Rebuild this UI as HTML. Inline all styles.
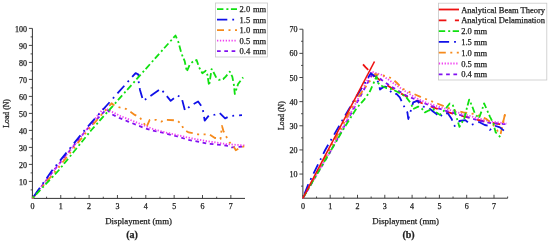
<!DOCTYPE html><html><head><meta charset="utf-8"><style>html,body{margin:0;padding:0;background:#fff;overflow:hidden}svg{display:block}text{stroke:#222;stroke-width:0.25px}</style></head><body>
<svg width="550" height="241" viewBox="0 0 550 241" font-family="'Liberation Serif', 'Times New Roman', serif" font-size="8" fill="#222">
<line x1="32.4" y1="28.4" x2="32.4" y2="198.9" stroke="#333" stroke-width="1"/>
<line x1="31.9" y1="198.4" x2="245" y2="198.4" stroke="#333" stroke-width="1"/>
<line x1="30.599999999999998" y1="189.90" x2="32.4" y2="189.90" stroke="#333" stroke-width="0.9"/>
<line x1="28.9" y1="181.40" x2="32.4" y2="181.40" stroke="#333" stroke-width="0.9"/>
<line x1="30.599999999999998" y1="172.90" x2="32.4" y2="172.90" stroke="#333" stroke-width="0.9"/>
<text x="26.9" y="184.50" text-anchor="end">10</text>
<line x1="28.9" y1="164.40" x2="32.4" y2="164.40" stroke="#333" stroke-width="0.9"/>
<line x1="30.599999999999998" y1="155.90" x2="32.4" y2="155.90" stroke="#333" stroke-width="0.9"/>
<text x="26.9" y="167.50" text-anchor="end">20</text>
<line x1="28.9" y1="147.40" x2="32.4" y2="147.40" stroke="#333" stroke-width="0.9"/>
<line x1="30.599999999999998" y1="138.90" x2="32.4" y2="138.90" stroke="#333" stroke-width="0.9"/>
<text x="26.9" y="150.50" text-anchor="end">30</text>
<line x1="28.9" y1="130.40" x2="32.4" y2="130.40" stroke="#333" stroke-width="0.9"/>
<line x1="30.599999999999998" y1="121.90" x2="32.4" y2="121.90" stroke="#333" stroke-width="0.9"/>
<text x="26.9" y="133.50" text-anchor="end">40</text>
<line x1="28.9" y1="113.40" x2="32.4" y2="113.40" stroke="#333" stroke-width="0.9"/>
<line x1="30.599999999999998" y1="104.90" x2="32.4" y2="104.90" stroke="#333" stroke-width="0.9"/>
<text x="26.9" y="116.50" text-anchor="end">50</text>
<line x1="28.9" y1="96.40" x2="32.4" y2="96.40" stroke="#333" stroke-width="0.9"/>
<line x1="30.599999999999998" y1="87.90" x2="32.4" y2="87.90" stroke="#333" stroke-width="0.9"/>
<text x="26.9" y="99.50" text-anchor="end">60</text>
<line x1="28.9" y1="79.40" x2="32.4" y2="79.40" stroke="#333" stroke-width="0.9"/>
<line x1="30.599999999999998" y1="70.90" x2="32.4" y2="70.90" stroke="#333" stroke-width="0.9"/>
<text x="26.9" y="82.50" text-anchor="end">70</text>
<line x1="28.9" y1="62.40" x2="32.4" y2="62.40" stroke="#333" stroke-width="0.9"/>
<line x1="30.599999999999998" y1="53.90" x2="32.4" y2="53.90" stroke="#333" stroke-width="0.9"/>
<text x="26.9" y="65.50" text-anchor="end">80</text>
<line x1="28.9" y1="45.40" x2="32.4" y2="45.40" stroke="#333" stroke-width="0.9"/>
<line x1="30.599999999999998" y1="36.90" x2="32.4" y2="36.90" stroke="#333" stroke-width="0.9"/>
<text x="26.9" y="48.50" text-anchor="end">90</text>
<line x1="28.9" y1="28.40" x2="32.4" y2="28.40" stroke="#333" stroke-width="0.9"/>
<text x="26.9" y="31.50" text-anchor="end">100</text>
<line x1="32.40" y1="198.4" x2="32.40" y2="195.0" stroke="#333" stroke-width="0.9"/>
<line x1="46.58" y1="198.4" x2="46.58" y2="196.70000000000002" stroke="#333" stroke-width="0.9"/>
<text x="32.40" y="209.1" text-anchor="middle">0</text>
<line x1="60.75" y1="198.4" x2="60.75" y2="195.0" stroke="#333" stroke-width="0.9"/>
<line x1="74.92" y1="198.4" x2="74.92" y2="196.70000000000002" stroke="#333" stroke-width="0.9"/>
<text x="60.75" y="209.1" text-anchor="middle">1</text>
<line x1="89.10" y1="198.4" x2="89.10" y2="195.0" stroke="#333" stroke-width="0.9"/>
<line x1="103.27" y1="198.4" x2="103.27" y2="196.70000000000002" stroke="#333" stroke-width="0.9"/>
<text x="89.10" y="209.1" text-anchor="middle">2</text>
<line x1="117.45" y1="198.4" x2="117.45" y2="195.0" stroke="#333" stroke-width="0.9"/>
<line x1="131.63" y1="198.4" x2="131.63" y2="196.70000000000002" stroke="#333" stroke-width="0.9"/>
<text x="117.45" y="209.1" text-anchor="middle">3</text>
<line x1="145.80" y1="198.4" x2="145.80" y2="195.0" stroke="#333" stroke-width="0.9"/>
<line x1="159.98" y1="198.4" x2="159.98" y2="196.70000000000002" stroke="#333" stroke-width="0.9"/>
<text x="145.80" y="209.1" text-anchor="middle">4</text>
<line x1="174.15" y1="198.4" x2="174.15" y2="195.0" stroke="#333" stroke-width="0.9"/>
<line x1="188.33" y1="198.4" x2="188.33" y2="196.70000000000002" stroke="#333" stroke-width="0.9"/>
<text x="174.15" y="209.1" text-anchor="middle">5</text>
<line x1="202.50" y1="198.4" x2="202.50" y2="195.0" stroke="#333" stroke-width="0.9"/>
<line x1="216.68" y1="198.4" x2="216.68" y2="196.70000000000002" stroke="#333" stroke-width="0.9"/>
<text x="202.50" y="209.1" text-anchor="middle">6</text>
<line x1="230.85" y1="198.4" x2="230.85" y2="195.0" stroke="#333" stroke-width="0.9"/>
<text x="230.85" y="209.1" text-anchor="middle">7</text>
<text transform="translate(9.3,113.4) rotate(-90)" text-anchor="middle" font-size="7.75">Load (N)</text>
<text x="138.6" y="223.6" text-anchor="middle" font-size="8.8">Displayment (mm)</text>
<text x="132" y="237.9" text-anchor="middle" font-size="10" font-weight="bold">(a)</text>
<polyline points="32.4,198.4 54.1,170.0 86.4,130.0 106.6,109.1 111.6,114.1 119.9,118.2 128.2,121.6 136.5,124.9 144.8,128.2 153.0,130.7 164.7,133.2 177.3,136.5 188.7,139.9 207.4,143.6 226.0,145.5 231.7,147.4 244.8,146.4" fill="none" stroke="#8010f0" stroke-width="1.8" stroke-dasharray="3.7 3.6" stroke-linejoin="round" />
<polyline points="32.4,198.4 54.5,170.0 86.2,130.0 104.1,107.5 111.6,111.6 119.9,115.8 128.2,119.1 136.5,122.4 144.8,125.7 153.0,129.0 164.7,132.3 177.0,135.0 190.0,138.0 206.0,141.0 226.0,144.0 244.8,145.5" fill="none" stroke="#f040f0" stroke-width="1.8" stroke-dasharray="1.3 1.6" stroke-linejoin="round" />
<polyline points="32.4,198.4 56.6,170.0 88.1,130.0 111.6,103.3 114.9,105.8 119.9,107.5 126.5,109.1 134.8,114.9 139.8,117.4 143.9,123.2 146.4,127.4 149.7,119.9 156.4,119.9 161.3,121.6 165.6,119.7 177.3,120.5 181.2,124.0 184.0,129.6 188.7,132.4 198.0,134.3 209.3,134.3 214.9,138.0 220.5,139.0 222.0,125.9 223.3,130.6 226.0,136.2 229.8,142.7 233.6,146.4 235.8,150.2 241.0,147.0 244.8,146.4" fill="none" stroke="#f58a1c" stroke-width="1.8" stroke-dasharray="7 4.5 2 4.5 2 4.5" stroke-dashoffset="2.20" stroke-linejoin="round" />
<polyline points="32.4,198.4 52.4,170.0 84.8,130.0 135.6,73.1 138.5,74.5 138.1,78.2 140.0,90.0 143.2,100.9 160.8,88.8 170.7,100.9 177.3,95.4 181.6,97.6 185.0,110.8 190.4,105.9 198.1,101.5 202.5,107.5 204.7,120.7 209.1,115.2 214.9,114.7 219.5,112.8 225.1,118.4 229.8,116.0 242.0,115.2" fill="none" stroke="#1010e8" stroke-width="1.8" stroke-dasharray="10.3 5 1.8 5" stroke-dashoffset="19.46" stroke-linejoin="round" />
<polyline points="32.4,198.4 59.0,170.0 91.4,130.0 175.5,35.5 178.5,42.4 181.6,53.9 184.7,61.1 186.8,71.5 189.9,64.2 193.0,61.5 196.6,60.0 199.1,67.4 202.4,73.2 205.8,70.8 207.4,74.9 209.1,85.7 211.6,69.1 213.2,71.6 216.5,78.2 219.0,79.9 223.2,79.0 225.7,76.6 229.8,71.6 232.3,76.6 233.9,84.9 234.8,94.0 238.1,84.0 243.1,77.4" fill="none" stroke="#10e010" stroke-width="1.8" stroke-dasharray="6.4 3 2 2.5" stroke-dashoffset="8.71" stroke-linejoin="round" />
<rect x="215.5" y="3" width="52" height="54" fill="#fff" stroke="#c8c8c8" stroke-width="0.8"/>
<line x1="217" y1="9.2" x2="237" y2="9.2" stroke="#10e010" stroke-width="1.8" stroke-dasharray="6.4 3 2 2.5"/>
<text x="239.5" y="12.2" font-size="8.5" word-spacing="0.7">2.0 mm</text>
<line x1="217" y1="19.7" x2="237" y2="19.7" stroke="#1010e8" stroke-width="1.8" stroke-dasharray="10.3 5 1.8 5"/>
<text x="239.5" y="22.7" font-size="8.5" word-spacing="0.7">1.5 mm</text>
<line x1="217" y1="30.2" x2="237" y2="30.2" stroke="#f58a1c" stroke-width="1.8" stroke-dasharray="7 4.5 2 4.5 2 4.5"/>
<text x="239.5" y="33.2" font-size="8.5" word-spacing="0.7">1.0 mm</text>
<line x1="217" y1="40.7" x2="237" y2="40.7" stroke="#f040f0" stroke-width="1.8" stroke-dasharray="1.3 1.6"/>
<text x="239.5" y="43.7" font-size="8.5" word-spacing="0.7">0.5 mm</text>
<line x1="217" y1="51.2" x2="237" y2="51.2" stroke="#8010f0" stroke-width="1.8" stroke-dasharray="3.7 3.6"/>
<text x="239.5" y="54.2" font-size="8.5" word-spacing="0.7">0.4 mm</text>
<line x1="302.9" y1="29.3" x2="302.9" y2="198.7" stroke="#333" stroke-width="1"/>
<line x1="302.4" y1="198.2" x2="507.7" y2="198.2" stroke="#333" stroke-width="1"/>
<line x1="301.09999999999997" y1="186.13" x2="302.9" y2="186.13" stroke="#333" stroke-width="0.9"/>
<line x1="299.4" y1="174.06" x2="302.9" y2="174.06" stroke="#333" stroke-width="0.9"/>
<line x1="301.09999999999997" y1="161.99" x2="302.9" y2="161.99" stroke="#333" stroke-width="0.9"/>
<text x="297.4" y="177.16" text-anchor="end">10</text>
<line x1="299.4" y1="149.92" x2="302.9" y2="149.92" stroke="#333" stroke-width="0.9"/>
<line x1="301.09999999999997" y1="137.85" x2="302.9" y2="137.85" stroke="#333" stroke-width="0.9"/>
<text x="297.4" y="153.02" text-anchor="end">20</text>
<line x1="299.4" y1="125.78" x2="302.9" y2="125.78" stroke="#333" stroke-width="0.9"/>
<line x1="301.09999999999997" y1="113.71" x2="302.9" y2="113.71" stroke="#333" stroke-width="0.9"/>
<text x="297.4" y="128.88" text-anchor="end">30</text>
<line x1="299.4" y1="101.64" x2="302.9" y2="101.64" stroke="#333" stroke-width="0.9"/>
<line x1="301.09999999999997" y1="89.57" x2="302.9" y2="89.57" stroke="#333" stroke-width="0.9"/>
<text x="297.4" y="104.74" text-anchor="end">40</text>
<line x1="299.4" y1="77.50" x2="302.9" y2="77.50" stroke="#333" stroke-width="0.9"/>
<line x1="301.09999999999997" y1="65.43" x2="302.9" y2="65.43" stroke="#333" stroke-width="0.9"/>
<text x="297.4" y="80.60" text-anchor="end">50</text>
<line x1="299.4" y1="53.36" x2="302.9" y2="53.36" stroke="#333" stroke-width="0.9"/>
<line x1="301.09999999999997" y1="41.29" x2="302.9" y2="41.29" stroke="#333" stroke-width="0.9"/>
<text x="297.4" y="56.46" text-anchor="end">60</text>
<line x1="299.4" y1="29.22" x2="302.9" y2="29.22" stroke="#333" stroke-width="0.9"/>
<text x="297.4" y="32.32" text-anchor="end">70</text>
<line x1="302.90" y1="198.2" x2="302.90" y2="194.79999999999998" stroke="#333" stroke-width="0.9"/>
<line x1="316.55" y1="198.2" x2="316.55" y2="196.5" stroke="#333" stroke-width="0.9"/>
<text x="302.90" y="209.1" text-anchor="middle">0</text>
<line x1="330.20" y1="198.2" x2="330.20" y2="194.79999999999998" stroke="#333" stroke-width="0.9"/>
<line x1="343.85" y1="198.2" x2="343.85" y2="196.5" stroke="#333" stroke-width="0.9"/>
<text x="330.20" y="209.1" text-anchor="middle">1</text>
<line x1="357.50" y1="198.2" x2="357.50" y2="194.79999999999998" stroke="#333" stroke-width="0.9"/>
<line x1="371.15" y1="198.2" x2="371.15" y2="196.5" stroke="#333" stroke-width="0.9"/>
<text x="357.50" y="209.1" text-anchor="middle">2</text>
<line x1="384.80" y1="198.2" x2="384.80" y2="194.79999999999998" stroke="#333" stroke-width="0.9"/>
<line x1="398.45" y1="198.2" x2="398.45" y2="196.5" stroke="#333" stroke-width="0.9"/>
<text x="384.80" y="209.1" text-anchor="middle">3</text>
<line x1="412.10" y1="198.2" x2="412.10" y2="194.79999999999998" stroke="#333" stroke-width="0.9"/>
<line x1="425.75" y1="198.2" x2="425.75" y2="196.5" stroke="#333" stroke-width="0.9"/>
<text x="412.10" y="209.1" text-anchor="middle">4</text>
<line x1="439.40" y1="198.2" x2="439.40" y2="194.79999999999998" stroke="#333" stroke-width="0.9"/>
<line x1="453.05" y1="198.2" x2="453.05" y2="196.5" stroke="#333" stroke-width="0.9"/>
<text x="439.40" y="209.1" text-anchor="middle">5</text>
<line x1="466.70" y1="198.2" x2="466.70" y2="194.79999999999998" stroke="#333" stroke-width="0.9"/>
<line x1="480.35" y1="198.2" x2="480.35" y2="196.5" stroke="#333" stroke-width="0.9"/>
<text x="466.70" y="209.1" text-anchor="middle">6</text>
<line x1="494.00" y1="198.2" x2="494.00" y2="194.79999999999998" stroke="#333" stroke-width="0.9"/>
<line x1="507.65" y1="198.2" x2="507.65" y2="196.5" stroke="#333" stroke-width="0.9"/>
<text x="494.00" y="209.1" text-anchor="middle">7</text>
<text transform="translate(283.5,115.6) rotate(-90)" text-anchor="middle" font-size="7.75">Load (N)</text>
<text x="405.7" y="223.6" text-anchor="middle" font-size="8.8">Displayment (mm)</text>
<text x="408.5" y="237.9" text-anchor="middle" font-size="10" font-weight="bold">(b)</text>
<polyline points="363.0,64.4 365.7,67.4 368.4,70.1 371.1,72.7 373.9,75.1 376.6,77.4 379.3,79.6 382.1,81.7 384.8,83.6 387.5,85.5 390.3,87.3 393.0,89.0 395.7,90.6 398.4,92.1 401.2,93.6 403.9,95.0 406.6,96.4 409.4,97.7 412.1,99.0 414.8,100.2 417.6,101.4 420.3,102.5 423.0,103.6 425.8,104.7 428.5,105.7 431.2,106.7 433.9,107.6 436.7,108.6 439.4,109.5 442.1,110.3 444.9,111.2 447.6,112.0 450.3,112.8 453.0,113.6 455.8,114.3 458.5,115.1 461.2,115.8 464.0,116.5 466.7,117.2 469.4,117.9 472.2,118.5 474.9,119.1 477.6,119.8 480.4,120.4 483.1,121.0 485.8,121.5 488.5,122.1 491.3,122.7 494.0,123.2 496.7,123.7 499.5,124.2 502.2,124.8 504.9,125.3" fill="none" stroke="#ee1111" stroke-width="1.8" stroke-dasharray="7.6 8.5" stroke-linejoin="round" />
<polyline points="302.9,198.2 331.4,150.0 358.4,100.0 373.3,72.4 381.6,79.9 389.9,85.7 398.2,90.7 406.5,95.7 418.0,100.5 428.2,104.9 444.8,110.5 459.5,114.8 479.0,120.5 490.7,123.0 506.5,124.1" fill="none" stroke="#8010f0" stroke-width="1.8" stroke-dasharray="3.7 3.6" stroke-linejoin="round" />
<polyline points="302.9,198.2 331.0,150.0 357.5,100.0 371.6,71.6 381.6,74.9 389.9,80.7 398.2,86.5 408.1,93.2 418.0,99.0 428.2,103.5 444.8,108.5 459.5,113.0 479.0,118.5 490.7,121.5 506.5,123.5" fill="none" stroke="#f040f0" stroke-width="1.8" stroke-dasharray="1.3 1.6" stroke-linejoin="round" />
<polyline points="302.9,198.2 329.5,150.0 356.0,100.0 375.0,74.1 384.9,75.8 391.5,78.2 397.0,83.0 403.2,89.0 411.6,93.0 419.9,96.6 428.2,100.0 436.5,103.2 444.8,106.6 453.0,109.9 463.4,112.3 475.1,114.2 481.6,116.6 486.6,119.1 493.3,124.9 497.4,130.7 500.5,134.5 503.2,121.6 505.7,111.6" fill="none" stroke="#f58a1c" stroke-width="1.8" stroke-dasharray="7 4.5 2 4.5 2 4.5" stroke-dashoffset="6.74" stroke-linejoin="round" />
<polyline points="302.9,198.2 308.3,184.2 325.2,150.0 339.7,125.0 354.2,100.0 370.8,73.3 372.5,74.5 374.5,76.5 377.5,80.5 379.0,84.5 380.0,89.5 382.0,88.0 385.0,86.5 388.0,87.5 390.0,90.5 392.5,94.0 394.5,94.5 396.5,93.8 399.8,97.3 403.3,104.9 405.0,108.2 407.4,112.4 408.3,119.0 410.0,113.2 413.2,102.4 417.4,100.8 419.9,104.1 423.2,106.6 428.2,107.4 433.1,111.5 436.5,114.0 439.8,117.3 443.1,113.2 447.8,113.3 451.7,119.1 454.6,126.0 459.5,121.0 465.3,120.1 471.2,125.0 479.0,122.0 484.8,125.0 488.3,125.7 489.9,129.9 494.9,125.7 499.9,127.4 504.0,130.7" fill="none" stroke="#1010e8" stroke-width="1.8" stroke-dasharray="10.3 5 1.8 5" stroke-dashoffset="17.46" stroke-linejoin="round" />
<polyline points="302.9,198.2 331.2,150.0 343.7,128.7 350.9,117.3 356.6,108.2 364.0,99.9 369.8,91.6 376.5,76.5 378.3,83.2 381.6,85.7 386.6,88.2 391.5,89.0 398.2,92.3 405.8,96.6 410.8,103.2 413.2,109.0 418.2,106.6 421.5,108.2 424.9,112.4 428.2,110.7 433.1,109.0 436.5,112.4 439.8,114.9 444.8,109.9 449.7,103.5 452.7,104.5 455.6,114.2 459.5,126.9 464.4,118.1 467.3,106.4 469.2,99.6 472.2,106.4 475.1,114.2 479.0,118.1 481.9,110.3 484.1,103.3 489.9,116.6 493.3,123.3 495.7,132.4 500.7,137.4" fill="none" stroke="#10e010" stroke-width="1.8" stroke-dasharray="6.4 3 2 2.5" stroke-dashoffset="13.52" stroke-linejoin="round" />
<polyline points="302.9,198.2 374.5,61.5" fill="none" stroke="#ee1111" stroke-width="1.6" stroke-linejoin="round" />
<polyline points="503.0,122.6 505.0,114.3" fill="none" stroke="#f58a1c" stroke-width="1.8" stroke-linejoin="round" />
<rect x="438.5" y="3.2" width="108.3" height="76.8" fill="#fff" stroke="#c8c8c8" stroke-width="0.8"/>
<line x1="438.8" y1="9.5" x2="459" y2="9.5" stroke="#ee1111" stroke-width="1.8"/>
<text x="461.2" y="12.5" font-size="8.5">Analytical Beam Theory</text>
<line x1="438.8" y1="20.3" x2="459" y2="20.3" stroke="#ee1111" stroke-width="1.8" stroke-dasharray="7.6 8.5"/>
<text x="461.2" y="23.3" font-size="8.5">Analytical Delamination</text>
<line x1="438.8" y1="31.1" x2="459" y2="31.1" stroke="#10e010" stroke-width="1.8" stroke-dasharray="6.4 3 2 2.5"/>
<text x="461.2" y="34.1" font-size="8.5">2.0 mm</text>
<line x1="438.8" y1="41.9" x2="459" y2="41.9" stroke="#1010e8" stroke-width="1.8" stroke-dasharray="10.3 5 1.8 5"/>
<text x="461.2" y="44.9" font-size="8.5">1.5 mm</text>
<line x1="438.8" y1="52.7" x2="459" y2="52.7" stroke="#f58a1c" stroke-width="1.8" stroke-dasharray="7 4.5 2 4.5 2 4.5"/>
<text x="461.2" y="55.7" font-size="8.5">1.0 mm</text>
<line x1="438.8" y1="63.5" x2="459" y2="63.5" stroke="#f040f0" stroke-width="1.8" stroke-dasharray="1.3 1.6"/>
<text x="461.2" y="66.5" font-size="8.5">0.5 mm</text>
<line x1="438.8" y1="74.3" x2="459" y2="74.3" stroke="#8010f0" stroke-width="1.8" stroke-dasharray="3.7 3.6"/>
<text x="461.2" y="77.3" font-size="8.5">0.4 mm</text>
</svg></body></html>
